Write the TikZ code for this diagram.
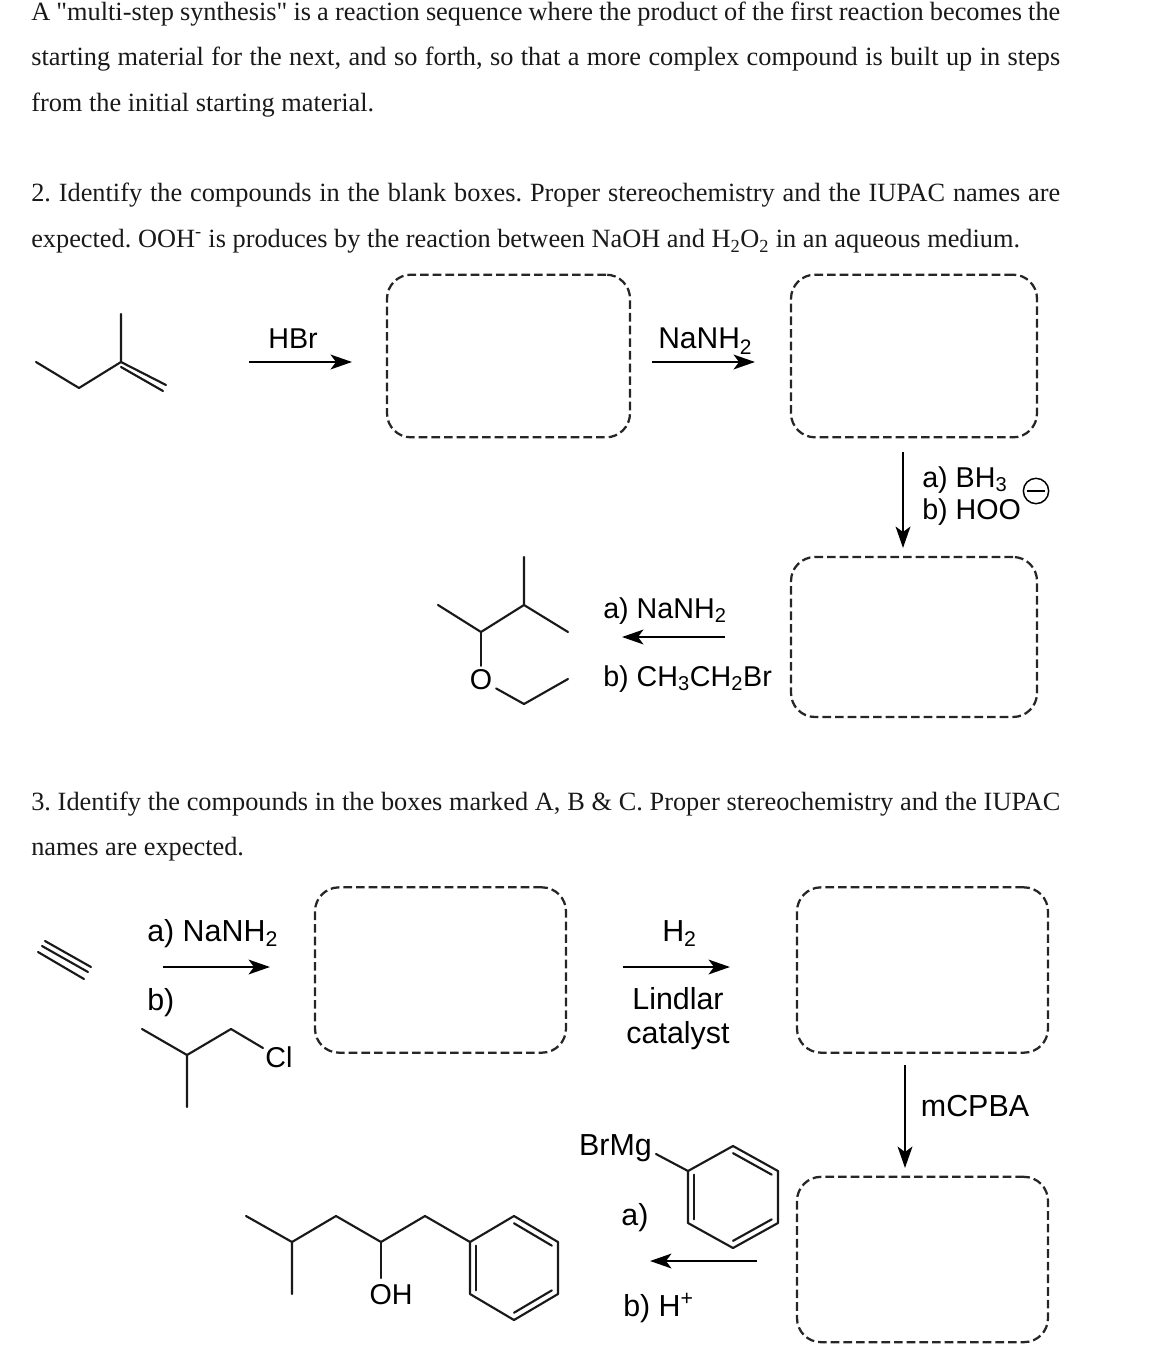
\documentclass[tikz,border=0pt]{standalone}
\usepackage{fontspec}
\usepackage{tikz}
\usetikzlibrary{arrows.meta,calc}
\setmainfont{Liberation Serif}[Ligatures=TeXOff]
\setsansfont{Liberation Sans}
\newcommand{\fullline}[1]{\makebox[771.75pt][s]{#1}}

\begin{document}
\frenchspacing
\begin{tikzpicture}[
    x=0.75pt, y=-0.75pt,
    txt/.style={anchor=base west, inner sep=0pt, font=\fontsize{19.75}{24}\selectfont, text=black!90},
    label/.style={inner sep=0pt, font=\sffamily\fontsize{21.5}{26}\selectfont},
    biglabel/.style={inner sep=0pt, font=\sffamily\fontsize{22.8}{27}\selectfont},
    reagent/.style={label, anchor=base west},
    bigreagent/.style={biglabel, anchor=base west},
    atom/.style={label, anchor=center},
    blank/.style={draw=black!85, line width=1.7pt, dash pattern=on 6.5pt off 3pt, rounded corners=18pt,
        inner sep=0pt, minimum width=#1*0.75pt, minimum height=122pt},
    bond/.style={line width=1.6pt, line cap=round, line join=round, black!90},
    rxn/.style={line width=2pt, -{Stealth[length=16pt,width=11pt,inset=4pt]}}
]
    \useasboundingbox (0,0) rectangle (1152,1358);

    % question text
    \node[txt] (p1) at (31,20.5) {\fullline{A "multi-step synthesis" is a reaction sequence where the product of the first reaction becomes the}};
    \node[txt] (p2) at (31,66) {\fullline{starting material for the next, and so forth, so that a more complex compound is built up in steps}};
    \node[txt] (p3) at (31,112) {from the initial starting material.};
    \node[txt] (q2a) at (31,202) {\fullline{2. Identify the compounds in the blank boxes. Proper stereochemistry and the IUPAC names are}};
    \node[txt] (q2b) at (31,248) {expected. OOH\textsuperscript{-} is produces by the reaction between NaOH and H\textsubscript{2}O\textsubscript{2} in an aqueous medium.};
    \node[txt] (q3a) at (31,810) {\fullline{3. Identify the compounds in the boxes marked A, B \& C. Proper stereochemistry and the IUPAC}};
    \node[txt] (q3b) at (31,855) {names are expected.};

    % blank boxes
    \node[blank=243] (box1) at (508.5,356) {};
    \node[blank=246] (box2) at (914,356) {};
    \node[blank=246, minimum height=120pt] (box3) at (914,637) {};
    \node[blank=251, minimum height=124pt] (boxA) at (440.5,970) {};
    \node[blank=251, minimum height=124pt] (boxB) at (922.5,970) {};
    \node[blank=251, minimum height=124pt] (boxC) at (922.5,1259.5) {};

    % starting alkene
    \coordinate (m1) at (36,362);
    \coordinate (m2) at (79,388);
    \coordinate (m3) at (121,362);
    \coordinate (m4) at (121,314);
    \coordinate (m5) at (166,385);
    \coordinate (m6) at (121,367);
    \coordinate (m7) at (163,391);
    \draw[bond] (m1) -- (m2) -- (m3) -- (m4);
    \draw[bond] (m3) -- (m5);
    \draw[bond] (m6) -- (m7);

    % ether
    \node[atom, outer sep=3pt] (ox) at (481,680) {O};
    \coordinate (e1) at (438,605);
    \coordinate (e2) at (481,632);
    \coordinate (e3) at (524,605);
    \coordinate (e4) at (524,557);
    \coordinate (e5) at (568,632);
    \coordinate (e6) at (524,704);
    \coordinate (e7) at (568,679);
    \draw[bond] (e1) -- (e2) -- (e3) -- (e4);
    \draw[bond] (e3) -- (e5);
    \draw[bond] (e2) -- (ox);
    \draw[bond] (ox) -- (e6) -- (e7);

    % alkyne
    \coordinate (y1) at (45,941);
    \coordinate (y2) at (91,967);
    \coordinate (y3) at (42,946);
    \coordinate (y4) at (88,972);
    \coordinate (y5) at (38,952);
    \coordinate (y6) at (84,979);
    \draw[bond] (y1) -- (y2);
    \draw[bond] (y3) -- (y4);
    \draw[bond] (y5) -- (y6);

    % alkyl chloride
    \node[atom] (cl) at (279,1057) {Cl};
    \coordinate (k1) at (142,1029);
    \coordinate (k2) at (187,1055);
    \coordinate (k3) at (187,1107);
    \coordinate (k4) at (231,1029);
    \coordinate (k5) at (263,1048);
    \draw[bond] (k1) -- (k2) -- (k3);
    \draw[bond] (k2) -- (k4) -- (k5);

    % grignard
    \node[atom, biglabel] (brmg) at (615.5,1148) {BrMg};
    \coordinate (g0) at (733,1197);
    \coordinate (g1) at (688,1171);
    \coordinate (g2) at (733,1146);
    \coordinate (g3) at (778,1171);
    \coordinate (g4) at (778,1223);
    \coordinate (g5) at (733,1248);
    \coordinate (g6) at (688,1223);
    \coordinate (g7) at (656,1154);
    \draw[bond] (g7) -- (g1);
    \draw[bond] (g1) -- (g2) -- (g3) -- (g4) -- (g5) -- (g6) -- cycle;
    \draw[bond] ($(g0)!0.86!(g1)$) -- ($(g0)!0.86!(g6)$);
    \draw[bond] ($(g0)!0.86!(g2)$) -- ($(g0)!0.86!(g3)$);
    \draw[bond] ($(g0)!0.86!(g4)$) -- ($(g0)!0.86!(g5)$);

    % product alcohol
    \node[atom] (oh) at (391,1295) {OH};
    \coordinate (h1) at (246,1216);
    \coordinate (h2) at (292,1242);
    \coordinate (h3) at (292,1294);
    \coordinate (h4) at (336,1216);
    \coordinate (h5) at (381,1242);
    \coordinate (h6) at (425,1216);
    \coordinate (h7) at (381,1278);
    \coordinate (r0) at (514,1268);
    \coordinate (r1) at (470,1242);
    \coordinate (r2) at (514,1216);
    \coordinate (r3) at (558,1242);
    \coordinate (r4) at (558,1294);
    \coordinate (r5) at (514,1320);
    \coordinate (r6) at (470,1294);
    \draw[bond] (h1) -- (h2) -- (h3);
    \draw[bond] (h2) -- (h4) -- (h5) -- (h6) -- (r1);
    \draw[bond] (h5) -- (h7);
    \draw[bond] (r1) -- (r2) -- (r3) -- (r4) -- (r5) -- (r6) -- cycle;
    \draw[bond] ($(r0)!0.86!(r1)$) -- ($(r0)!0.86!(r6)$);
    \draw[bond] ($(r0)!0.86!(r2)$) -- ($(r0)!0.86!(r3)$);
    \draw[bond] ($(r0)!0.86!(r4)$) -- ($(r0)!0.86!(r5)$);

    % reaction arrows
    \coordinate (a1s) at (249,362);
    \coordinate (a1e) at (352,362);
    \coordinate (a2s) at (652,362);
    \coordinate (a2e) at (755,362);
    \coordinate (a3s) at (903,452);
    \coordinate (a3e) at (903,548);
    \coordinate (a4s) at (725,637);
    \coordinate (a4e) at (622,637);
    \coordinate (a5s) at (163,967);
    \coordinate (a5e) at (270,967);
    \coordinate (a6s) at (623,967);
    \coordinate (a6e) at (730,967);
    \coordinate (a7s) at (905,1065);
    \coordinate (a7e) at (905,1168);
    \coordinate (a8s) at (757,1261);
    \coordinate (a8e) at (650,1261);
    \draw[rxn] (a1s) -- (a1e);
    \draw[rxn] (a2s) -- (a2e);
    \draw[rxn] (a3s) -- (a3e);
    \draw[rxn] (a4s) -- (a4e);
    \draw[rxn] (a5s) -- (a5e);
    \draw[rxn] (a6s) -- (a6e);
    \draw[rxn] (a7s) -- (a7e);
    \draw[rxn] (a8s) -- (a8e);

    % reagents
    \node[atom] (hbr) at (293,339) {HBr};
    \node[reagent, font=\sffamily\fontsize{22.5}{27}\selectfont] (nanh1) at (658,349) {NaNH\textsubscript{2}};
    \node[reagent] (bh3) at (922,487) {a) BH\textsubscript{3}};
    \node[reagent] (hoo) at (922,519) {b) HOO};
    \node[circle, draw, line width=1.1pt, minimum size=19pt, inner sep=0pt] (minus) at (1036,491) {};
    \draw[line width=1.4pt, shorten >=3pt, shorten <=3pt] (minus.west) -- (minus.east);
    \node[reagent] (nanh2) at (603,618) {a) NaNH\textsubscript{2}};
    \node[reagent] (ethbr) at (603,686) {b) CH\textsubscript{3}CH\textsubscript{2}Br};
    \node[bigreagent] (nanh3) at (147,941) {a) NaNH\textsubscript{2}};
    \node[bigreagent] (bb) at (147,1010) {b)};
    \node[bigreagent] (h2) at (662,941) {H\textsubscript{2}};
    \node[atom, biglabel] (lind) at (678,999) {Lindlar};
    \node[atom, biglabel] (cat) at (678,1036) {catalyst};
    \node[atom, biglabel] (mcpba) at (975,1106) {mCPBA};
    \node[atom, biglabel] (aa) at (635,1218) {a)};
    \node[bigreagent] (hplus) at (623,1316) {b) H\textsuperscript{+}};
\end{tikzpicture}
\end{document}
